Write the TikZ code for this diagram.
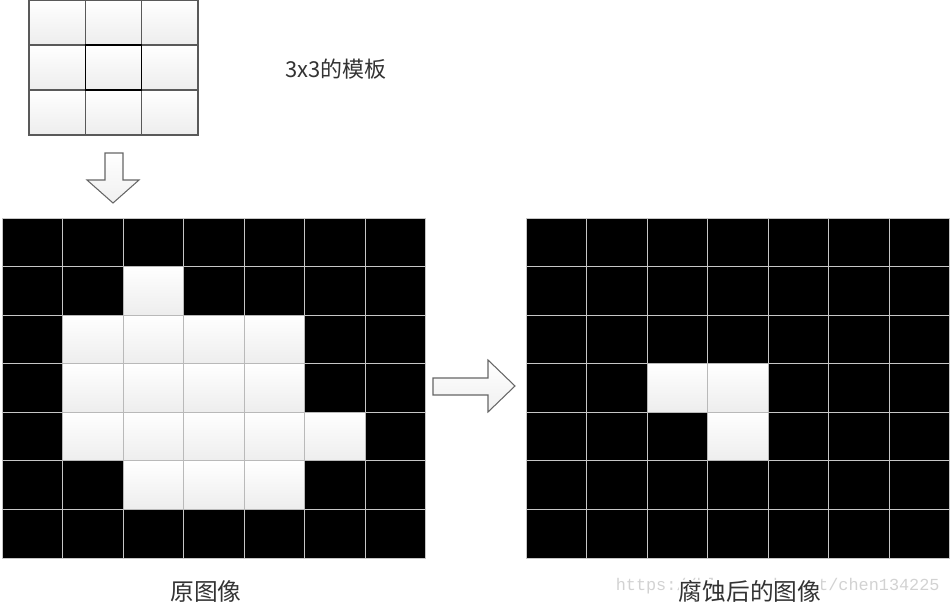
\documentclass[tikz,border=0pt]{standalone}
\usepackage{fontspec}
\setmainfont{Liberation Serif}
\setmonofont{Liberation Mono}
\newfontfamily\cjkfont{Noto Sans CJK SC}
\tikzset{
  blackcell/.style={fill=black, draw=gray!45, line width=0.5pt},
  whitecell/.style={top color=white, bottom color=gray!14, draw=gray!55, line width=0.5pt},
  tplcell/.style={top color=white, bottom color=gray!14, draw=black!65, line width=0.7pt},
  blockarrow/.style={top color=white, bottom color=gray!12, draw=black!60, line width=0.6pt, line join=miter},
  caption/.style={font=\cjkfont\fontsize{13.5}{16}\selectfont, text=black!80, inner sep=0pt}
}
\newcommand{\cw}{60.5}
\newcommand{\ch}{48.57}
\begin{document}
\begin{tikzpicture}[x=0.02cm, y=-0.02cm]
  \useasboundingbox (0,0) rectangle (950,608);
  % 3x3 template
  \foreach \r in {0,1,2}
    \foreach \c in {0,1,2}
      \path[tplcell] (29+\c*56.3, \r*45) rectangle ++(56.3,45);
  \draw[black, line width=0.8pt] (85.3,45) rectangle (141.6,90);
  \node[caption, anchor=west, font=\cjkfont\fontsize{12.5}{15}\selectfont] (tpllabel) at (285,69) {3x3的模板};
  % down arrow
  \path[blockarrow] (105,153) -- (123,153) -- (123,180) -- (139,180) -- (113,203)
    -- (87,180) -- (105,180) -- cycle;
  % source and eroded images
  \foreach \gx in {2,526}
    \foreach \r in {0,...,6}
      \foreach \c in {0,...,6}
        \path[blackcell] (\gx+\c*\cw, 218+\r*\ch) rectangle ++(\cw,\ch);
  \foreach \r/\c in {1/2, 2/1, 2/2, 2/3, 2/4, 3/1, 3/2, 3/3, 3/4,
                     4/1, 4/2, 4/3, 4/4, 4/5, 5/2, 5/3, 5/4}
    \path[whitecell] (2+\c*\cw, 218+\r*\ch) rectangle ++(\cw,\ch);
  \foreach \r/\c in {3/2, 3/3, 4/3}
    \path[whitecell] (526+\c*\cw, 218+\r*\ch) rectangle ++(\cw,\ch);
  % right arrow
  \path[blockarrow] (433,378) -- (488,378) -- (488,360) -- (515,386) -- (488,412)
    -- (488,395) -- (433,395) -- cycle;
  % captions
  \node[text=gray!35, anchor=east, inner sep=0pt, font=\ttfamily\fontsize{9.6}{11}\selectfont] (mark) at (940,586) {https://blog.csdn.net/chen134225};
  \node[caption] (srclabel) at (206,591) {原图像};
  \node[caption, fill=white] (dstlabel) at (750,591) {腐蚀后的图像};
\end{tikzpicture}
\end{document}
